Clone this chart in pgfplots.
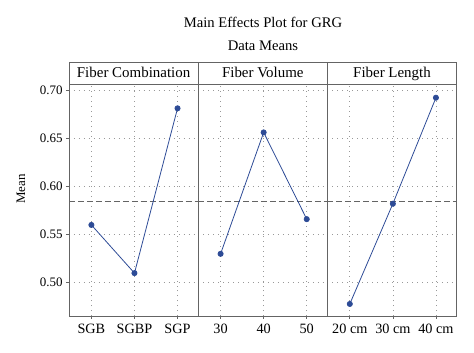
\documentclass[border=0pt]{standalone}
\usepackage{fontspec}
\setmainfont{Liberation Serif}
\usepackage{pgfplots}
\pgfplotsset{compat=1.18}
\definecolor{lineblue}{RGB}{45,75,150}
\definecolor{framegray}{RGB}{100,100,100}
\pgfplotsset{
  panel/.style={
    scale only axis, width=129.2bp, height=231bp,
    xmin=-0.52, xmax=2.48, ymin=0.4655, ymax=0.7052,
    xtick={0,1,2}, ytick={0.50,0.55,0.60,0.65,0.70},
    grid=major,
    major grid style={dash pattern=on 0.6pt off 4.4pt, gray!80, line width=0.7pt},
    axis line style={framegray, line width=1pt},
    tick align=outside, major tick length=3bp,
    tick style={framegray, line width=0.7pt},
    xtick pos=bottom, ytick pos=left,
    x tick label style={font=\fontsize{14.3}{16}\selectfont, yshift=-2bp},
    y tick label style={font=\fontsize{13}{15}\selectfont,
      /pgf/number format/.cd, fixed, fixed zerofill, precision=2},
    /pgf/number format/assume math mode=true,
    every axis title/.style={at={(0.5,1)}, anchor=south, draw=framegray, line width=1pt,
      minimum width=129.2bp, minimum height=22bp, inner sep=0pt,
      text height=10.5bp, text depth=3bp,
      font=\fontsize{15}{17}\selectfont},
    clip=false,
  },
  inner/.style={yticklabels={}, major y tick style={draw=none}},
  dataline/.style={lineblue, line width=0.8pt, mark=*, mark size=2.6pt, mark options={fill=lineblue, draw=lineblue}},
  refline/.style={framegray, dash pattern=on 6pt off 3pt, line width=0.9pt, mark=none},
}
\begin{document}
\begin{tikzpicture}
\useasboundingbox (0,0) rectangle (474bp,353bp);
\node[font=\fontsize{14.7}{16}\selectfont] at (263bp,331bp) {Main Effects Plot for GRG};
\node[font=\fontsize{14.7}{16}\selectfont] at (263bp,307bp) {Data Means};
\node[rotate=90, font=\fontsize{13}{15}\selectfont] at (21bp,164bp) {Mean};
\begin{axis}[panel, at={(69bp,37bp)}, anchor=south west,
  xticklabels={SGB,SGBP,SGP}, title={Fiber Combination}]
\addplot[refline] coordinates {(-0.52,0.5844) (2.48,0.5844)};
\addplot[dataline] coordinates {(0,0.560) (1,0.510) (2,0.681)};
\end{axis}
\begin{axis}[panel, inner, at={(198.2bp,37bp)}, anchor=south west,
  xticklabels={30,40,50}, title={Fiber Volume}]
\addplot[refline] coordinates {(-0.52,0.5844) (2.48,0.5844)};
\addplot[dataline] coordinates {(0,0.530) (1,0.656) (2,0.566)};
\end{axis}
\begin{axis}[panel, inner, at={(327.4bp,37bp)}, anchor=south west,
  xticklabels={20 cm,30 cm,40 cm}, title={Fiber Length}]
\addplot[refline] coordinates {(-0.52,0.5844) (2.48,0.5844)};
\addplot[dataline] coordinates {(0,0.478) (1,0.582) (2,0.692)};
\end{axis}
\end{tikzpicture}
\end{document}
